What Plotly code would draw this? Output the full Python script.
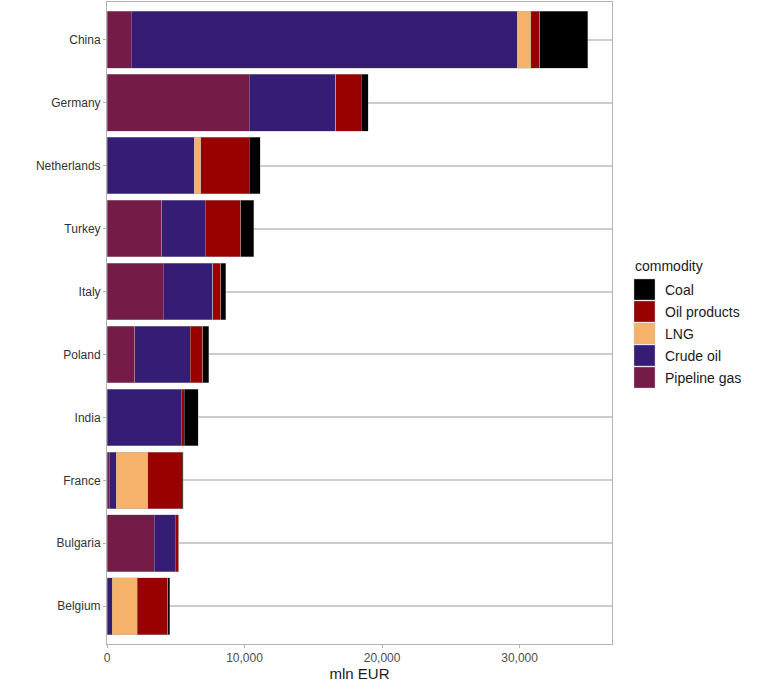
import plotly.graph_objects as go

countries = ["China", "Germany", "Netherlands", "Turkey", "Italy",
             "Poland", "India", "France", "Bulgaria", "Belgium"]

pipeline_gas = [1760, 10360, 0, 3990, 4090, 2030, 0, 150, 3450, 0]
crude_oil = [28070, 6260, 6360, 3150, 3610, 4040, 5390, 520, 1530, 380]
lng = [970, 0, 440, 0, 0, 0, 0, 2300, 0, 1820]
oil_products = [650, 1870, 3560, 2590, 580, 900, 220, 2500, 240, 2220]
coal = [3520, 510, 780, 950, 340, 430, 1020, 70, 0, 130]

series = [
    ("Pipeline gas", pipeline_gas, "#741b47"),
    ("Crude oil", crude_oil, "#351c75"),
    ("LNG", lng, "#f6b26b"),
    ("Oil products", oil_products, "#990000"),
    ("Coal", coal, "#000000"),
]

W, H = 768, 696
ML, MR, MT, MB = 107, 156, 2, 52
PW, PH = W - ML - MR, H - MT - MB


def px(x):
    return (x - ML) / PW


def py(y):
    return (H - MB - y) / PH


fig = go.Figure()
for name, vals, color in series:
    fig.add_trace(go.Bar(
        y=countries, x=vals, name=name, orientation="h",
        marker=dict(color=color, line=dict(color="rgba(180,180,180,0.8)", width=0.5)),
        width=0.9, showlegend=False,
    ))

# legend drawn as keys + text (ggplot-style large keys)
shapes = []
annotations = [dict(
    text="commodity", x=px(633), y=py(266), xref="paper", yref="paper",
    xanchor="left", yanchor="middle", showarrow=False,
    font=dict(size=14, color="#1a1a1a"),
)]
for i, (name, vals, color) in enumerate(reversed(series)):
    top = 279 + 22 * i
    shapes.append(dict(
        type="rect", xref="paper", yref="paper",
        x0=px(634), x1=px(655), y0=py(top), y1=py(top + 21),
        fillcolor=color, line=dict(color="rgba(200,200,200,0.8)", width=0.5),
        layer="above",
    ))
    annotations.append(dict(
        text=name, x=px(663), y=py(top + 10.5), xref="paper", yref="paper",
        xanchor="left", yanchor="middle", showarrow=False,
        font=dict(size=14, color="#1a1a1a"),
    ))

fig.update_layout(
    barmode="stack",
    width=W, height=H,
    paper_bgcolor="white", plot_bgcolor="white",
    margin=dict(l=ML, r=MR, t=MT, b=MB),
    font=dict(family="Liberation Sans, Arial, sans-serif", size=12, color="#4d4d4d"),
    showlegend=False,
    shapes=shapes,
    annotations=annotations,
    xaxis=dict(
        range=[0, 36720], tickvals=[0, 10000, 20000, 30000],
        ticktext=["0", "10,000", "20,000", "30,000"],
        showgrid=False, zeroline=False,
        ticks="outside", ticklen=3, tickcolor="#b3b3b3",
        showline=True, linecolor="#b3b3b3", linewidth=1, mirror=True,
        tickfont=dict(size=12, color="#4d4d4d"),
        title=dict(text="mln EUR", font=dict(size=15, color="#1a1a1a"), standoff=4),
    ),
    yaxis=dict(
        range=[9.6, -0.6],
        showgrid=True, gridcolor="#cccccc", gridwidth=1.5,
        ticks="outside", ticklen=3, tickcolor="#b3b3b3",
        showline=True, linecolor="#b3b3b3", linewidth=1, mirror=True,
        tickfont=dict(size=12, color="#333333"),
    ),
)

fig.write_html("out.html")
